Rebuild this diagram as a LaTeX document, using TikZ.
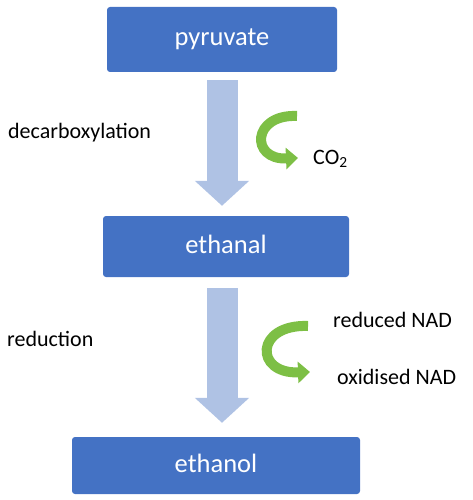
\documentclass[tikz,border=0pt]{standalone}
\usepackage{fontspec}
\setmainfont{Carlito}
\usepackage{xcolor}
\usetikzlibrary{calc, positioning, arrows.meta}
\definecolor{boxblue}{HTML}{4472C4}
\definecolor{paleblue}{HTML}{AFC2E4}
\definecolor{leafgreen}{HTML}{7DBF45}

\begin{document}
\begin{tikzpicture}[x=1pt,y=-1pt,
                    main box/.style={rectangle,rounded corners=3pt,fill=boxblue,text=white,
                      font=\fontsize{26.5}{30}\selectfont,text height=18pt,text depth=5pt},
                    label text/.style={inner sep=0pt,font=\fontsize{22}{26}\selectfont},
                    big arrow/.style={paleblue,line width=31pt,-{Triangle[width=53pt,length=25pt]}},
                    small arrow/.style={leafgreen,line width=10pt,-{Triangle[width=21pt,length=12pt]}}]

  \useasboundingbox (0,0) rectangle (472,500);

  \node[main box,minimum width=230pt,minimum height=65pt] at (222,39.5) (pyruvate) {pyruvate};
  \node[main box,minimum width=246pt,minimum height=61pt] at (226,246.5) (ethanal) {ethanal};
  \node[main box,minimum width=288pt,minimum height=57pt] at (216,465.5) (ethanol) {ethanol};

  \node[label text,anchor=base west] at (8,139) (decarb) {decarboxylation};
  \node[label text,anchor=base west] at (7,346) (reduct) {reduction};
  \node[label text,anchor=base west] at (313,164.5) (co2) {CO\textsubscript{2}};
  \node[label text,anchor=base west] at (333,327) (nadh) {reduced NAD};
  \node[label text,anchor=base west] at (337,384) (nad) {oxidised NAD};

  \coordinate (c1) at (297,116);
  \coordinate (c2) at (298,158);
  \coordinate (n1) at (308,326);
  \coordinate (n2) at (310,372);

  \draw[big arrow,shorten <=8pt,shorten >=10pt] (pyruvate.south) -- (pyruvate.south |- ethanal.north);
  \draw[big arrow,shorten <=11pt,shorten >=14pt] (pyruvate.south |- ethanal.south) -- (pyruvate.south |- ethanol.north);

  \draw[small arrow] (c1) .. controls (252,114) and (250,160) .. (c2);
  \draw[small arrow] (n1) .. controls (255,324) and (254,374) .. (n2);

\end{tikzpicture}
\end{document}
